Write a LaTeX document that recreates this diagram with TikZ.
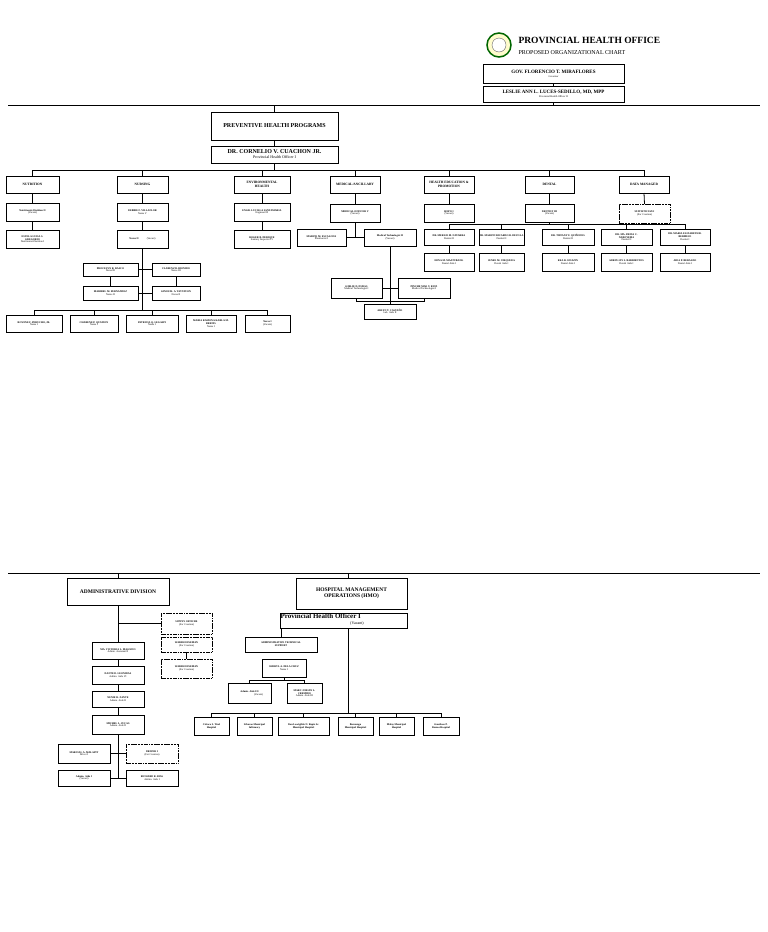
\documentclass[tikz,border=0pt]{standalone}
\usepackage{fontspec}
\setmainfont{Liberation Serif}
\tikzset{
 box/.style={draw,line width=0.8pt,inner sep=0.5pt,outer sep=0pt,align=center,font=\fontsize{2.6}{3}\selectfont},
 dsh/.style={dash pattern=on 1.5pt off 0.7pt on 0.4pt off 0.7pt},
 ln/.style={line width=0.8pt},
 hd/.style={font=\bfseries\fontsize{3.4}{4}\selectfont},
 bb/.style={font=\bfseries\fontsize{2.6}{3}\selectfont},
 bigb/.style={font=\bfseries\fontsize{5.5}{6.5}\selectfont}
}
\newcommand\bx[7][]{\pgfmathsetmacro\cx{(#3+#5)/2}\pgfmathsetmacro\cy{(#4+#6)/2}\pgfmathsetmacro\ww{#5-#3}\pgfmathsetmacro\hh{#6-#4}\node[box,minimum width=\ww pt,minimum height=\hh pt,#1] (#2) at (\cx,\cy) {#7};}
\newcommand\nm[2]{\bfseries #1\\[-0.3pt]\mdseries #2}
\begin{document}
\begin{tikzpicture}[x=1pt,y=-1pt]
\useasboundingbox[fill=white] (0,0) rectangle (768,932);
% header
\node[circle,draw=green!40!black,line width=1.5pt,fill=yellow!20,minimum size=24pt] (logo) at (499,45) {};
\node[circle,draw=black!60,line width=0.4pt,minimum size=14pt,fill=white] (logoin) at (499,45) {};
\node[anchor=west,font=\bfseries\fontsize{9.5}{10}\selectfont] (title) at (515,40) {PROVINCIAL HEALTH OFFICE};
\node[anchor=west,font=\fontsize{6}{7}\selectfont] (sub) at (515,53) {PROPOSED ORGANIZATIONAL CHART};
\bx{gov}{483}{64}{624}{83}{\bfseries\fontsize{5}{6}\selectfont GOV. FLORENCIO T. MIRAFLORES\\[1pt]Governor}
\bx{les}{483}{86}{624}{102}{\bfseries\fontsize{5}{6}\selectfont LESLIE ANN L. LUCES-SEDILLO, MD, MPP\\[0.5pt]Provincial Health Officer II}
\draw[ln] (gov.south)--(les.north);
\coordinate (tl) at (8,105); \coordinate (tr) at (760,105);
\draw[line width=1pt] (tl)--(tr);
\draw[ln] (les.south)--(les.south|-tl);
% preventive
\bx{php}{211}{112}{338}{140}{\bfseries\fontsize{6}{7}\selectfont PREVENTIVE HEALTH PROGRAMS}
\bx{cua}{211}{146}{338}{163}{\bfseries\fontsize{6}{7}\selectfont DR. CORNELIO V. CUACHON JR.\\[2pt]\fontsize{4}{5}\selectfont Provincial Health Officer I}
\draw[ln] (php.north|-tl)--(php.north) (php.south)--(cua.north);
\bx[hd]{nut}{6}{176}{59}{193}{NUTRITION}
\bx[hd]{nur}{117}{176}{168}{193}{NURSING}
\bx[hd]{env}{234}{176}{290}{193}{ENVIRONMENTAL\\HEALTH}
\bx[hd]{med}{330}{176}{380}{193}{MEDICAL/ANCILLARY}
\bx[hd]{hep}{424}{176}{474}{193}{HEALTH EDUCATION \&\\PROMOTION}
\bx[hd]{den}{525}{176}{574}{193}{DENTAL}
\bx[hd]{dat}{619}{176}{669}{193}{DATA MANAGER}
\coordinate (b1) at (0,170);
\draw[ln] (cua.south)--(cua.south|-b1) (nut.north)--(nut.north|-b1)--(dat.north|-b1)--(dat.north);
\foreach \n in {nur,env,med,hep,den} \draw[ln] (\n.north)--(\n.north|-b1);
% row 2
\bx{nd2}{6}{203}{59}{221}{\nm{Nutritionist-Dietitian II}{(Vacant)}}
\bx{deb}{117}{203}{168}{221}{\nm{DEBBIE F. VILLAFLOR}{Nurse V}}
\bx{eng}{234}{203}{290}{221}{\nm{ENGR. LUCILLA SANTAMARIA}{Engineer III}}
\bx{mo5}{330}{204}{380}{222}{\nm{MEDICAL OFFICER V}{(Vacant)}}
\bx{hep1}{424}{204}{474}{222}{\nm{HEPO I}{(Vacant)}}
\bx{d3}{525}{204}{574}{222}{\nm{DENTIST III}{(Vacant)}}
\bx[dsh]{stat}{619}{204}{670}{223}{\nm{STATISTICIAN I}{(For Creation)}}
\foreach \a/\b in {nut/nd2,nur/deb,env/eng,med/mo5,hep/hep1,den/d3,dat/stat} \draw[ln] (\a.south)--(\b.north);
% row 3
\bx{est}{6}{230}{59}{248}{\bfseries ESTELA LUISA S.\\\bfseries GREGORIO\\[-0.3pt]Nutritionist-Dietitian I}
\bx{n2v}{117}{230}{168}{248}{\textbf{Nurse II}\hspace{8pt}(Vacant)}
\bx{rog}{234}{230}{290}{248}{\nm{ROGER B. DERIQUE}{Sanitary Inspector IV}}
\bx{mar}{297}{229}{346}{246}{\nm{MARVIE M. ESCALONA}{Pharmacist I}}
\bx{mt2}{364}{229}{416}{246}{\nm{Medical Technologist II}{(Vacant)}}
\foreach \a/\b in {nd2/est,deb/n2v,eng/rog} \draw[ln] (\a.south)--(\b.north);
\coordinate (m1) at (0,237.5);
\draw[ln] (mo5.south)--(mo5.south|-m1) (mar.east)--(mt2.west);
% dental
\bx{dr1}{424}{229}{474}{245}{\nm{DR. MERLIE M. NAYARRA}{Dentist II}}
\bx{dr2}{479}{229}{524}{245}{\nm{DR. MARVIN RICARDO B. DEVOLA}{Dentist II}}
\bx{dr3}{542}{229}{594}{245}{\nm{DR. TIFFANY F. QUI\~NONES}{Dentist II}}
\bx{dr4}{601}{229}{652}{245}{\bfseries DR. MA. FRIDA C.\\\bfseries NABOYEMA\\[-0.3pt]Dentist II}
\bx{dr5}{660}{229}{710}{245}{\bfseries DR. MARIA ELIZABETH B.\\\bfseries BERMEJO\\[-0.3pt]Dentist I}
\coordinate (b2) at (0,224);
\draw[ln] (d3.south)--(d3.south|-b2) (dr1.north)--(dr1.north|-b2)--(dr5.north|-b2)--(dr5.north);
\foreach \n in {dr2,dr3,dr4} \draw[ln] (\n.north)--(\n.north|-b2);
\bx{da1}{424}{253}{474}{271}{\nm{EDNA M. MAATUBANG}{Dental Aide I}}
\bx{da2}{479}{253}{524}{271}{\nm{JENEE M. CIRQUEDA}{Dental Aide I}}
\bx{da3}{542}{253}{594}{271}{\nm{REA R. SINAZIN}{Dental Aide I}}
\bx{da4}{601}{253}{652}{271}{\nm{ADRIN JAY S. BARRIENTOS}{Dental Aide I}}
\bx{da5}{660}{253}{710}{271}{\nm{AIDA P. BERALDO}{Dental Aide I}}
\foreach \i in {1,...,5} \draw[ln] (dr\i.south)--(da\i.north);
% medtech
\bx{gir}{331}{278}{382}{298}{\nm{GIRLIE D. DUBAS}{Medical Technologist I}}
\bx{pin}{398}{278}{450}{298}{\nm{PINCHE MAE V. RUIZ}{Medical Technologist I}}
\bx{arl}{364}{304}{416}{319}{\nm{ARLYN T. CASTA\~NO}{Lab. Aide II}}
\coordinate (m2) at (0,301);
\draw[ln] (mt2.south)--(arl.north) (gir.east)--(pin.west)
 (gir.south)--(gir.south|-m2)--(pin.south|-m2)--(pin.south);
% nursing
\bx{ras}{83}{263}{138}{276}{\nm{PROCELYN R. RASCO}{Nurse III}}
\bx{bio}{152}{263}{200}{276}{\nm{CLARENZ B. BIONIDO}{Nurse III}}
\bx{fer}{83}{286}{138}{300}{\nm{MARIBEL M. FERNANDEZ}{Nurse II}}
\bx{tay}{152}{286}{200}{300}{\nm{GINOVAL A. TAYTAYON}{Nurse II}}
\draw[ln] (ras.east)--(bio.west) (fer.east)--(tay.west) (ras.south)--(fer.north) (bio.south)--(tay.north);
\bx{rov}{6}{315}{62}{332}{\nm{ROVENE F. PERUCHO, JR.}{Nurse I}}
\bx{cha}{70}{315}{118}{332}{\nm{CHARENE P. QUATION}{Nurse I}}
\bx{pat}{126}{315}{178}{332}{\nm{PATRICIA Q. LEGASPI}{Nurse I}}
\bx{mrk}{186}{315}{236}{332}{\bfseries MARIA RAMONA KARLA M.\\\bfseries BRENIS\\[-0.3pt]Nurse I}
\bx{n1v}{245}{315}{290}{332}{\nm{Nurse I}{(Vacant)}}
\coordinate (b3) at (0,310);
\draw[ln] (n2v.south)--(n2v.south|-b3) (rov.north)--(rov.north|-b3)--(n1v.north|-b3)--(n1v.north);
\foreach \n in {cha,pat,mrk} \draw[ln] (\n.north)--(\n.north|-b3);
% ===== bottom =====
\coordinate (bl) at (8,573); \coordinate (br) at (760,573);
\draw[line width=1pt] (bl)--(br);
\bx[bigb]{adm}{67}{578}{169}{605}{ADMINISTRATIVE DIVISION}
\bx[bigb]{hmo}{296}{578}{407}{609}{HOSPITAL MANAGEMENT\\OPERATIONS (HMO)}
\coordinate (hmt) at (348,573);
\draw[ln] (adm.north)--(adm.north|-bl) (hmo.north-|hmt)--(hmt);
\bx{pho}{280}{613}{407}{628}{}
\node[anchor=north west,font=\bfseries\fontsize{7}{8}\selectfont,inner sep=0.5pt] (phot) at (pho.north west) {Provincial Health Officer I};
\node[font=\fontsize{4}{5}\selectfont,inner sep=0.5pt] (phov) at (357,624) {(Vacant)};
% admin
\bx[dsh]{sup}{161}{613}{212}{634}{\nm{SUPPLY OFFICER}{(For Creation)}}
\bx[dsh]{wh1}{161}{637}{212}{652}{\nm{WAREHOUSEMAN}{(For Creation)}}
\bx[dsh]{wh2}{161}{659}{212}{678}{\nm{WAREHOUSEMAN}{(For Creation)}}
\draw[ln] (wh1.south)--(wh2.north);
\bx{mag}{92}{642}{144}{659}{\nm{MA. VICTORIA L. MAGSINO}{Admin. Assistant II}}
\bx{dan}{92}{666}{144}{684}{\nm{DANTE D. LEONIDAS}{Admin. Aide VI}}
\bx{nen}{92}{691}{144}{707}{\nm{NENIE R. ZANTE}{Admin. Aide II}}
\bx{mic}{92}{715}{144}{734}{\nm{MICHEL L. JUCAS}{Admin. Aide II}}
\bx{mal}{58}{744}{110}{763}{\nm{MARCIAL A. MALAPIT}{Driver I}}
\bx[dsh]{drv}{126}{744}{178}{763}{\nm{DRIVER I}{(For Creation)}}
\bx{aa1}{58}{770}{110}{786}{\nm{Admin. Aide I}{(Vacant)}}
\bx{ric}{126}{770}{178}{786}{\nm{RICHARD R. BIAS}{Admin. Aide I}}
\draw[ln] (adm.south)--(mag.north) (mag.south)--(dan.north) (dan.south)--(nen.north) (nen.south)--(mic.north)
 (mic.south)--(mic.south|-aa1.east) (mal.east)--(drv.west) (aa1.east)--(ric.west)
 (adm.south|-sup.west)--(sup.west);
% hmo
\bx[bb]{ats}{245}{637}{317}{652}{ADMINISTRATIVE TECHNICAL\\SUPPORT}
\bx{she}{262}{659}{306}{677}{\nm{SHERYL A. DELA CRUZ}{Nurse I}}
\bx{aa3}{228}{683}{271}{703}{\bfseries Admin. Aide III\\\hspace*{18pt}(Vacant)}
\bx{mjc}{287}{683}{322}{703}{\bfseries MARC JORIAN L.\\\bfseries CREMIDO\\[-0.3pt]Admin. Aide III}
\coordinate (h1) at (0,680);
\draw[ln] (ats.north|-pho.south)--(ats.north) (ats.south|-she.north)--(she.north)
 (she.south)--(she.south|-h1) (aa3.north)--(aa3.north|-h1)--(mjc.north|-h1)--(mjc.north);
\bx[bb]{hs1}{194}{717}{229}{735}{Ciriaco S. Tirol\\Hospital}
\bx[bb]{hs2}{237}{717}{272}{735}{Libacao Municipal\\Infirmary}
\bx[bb]{hs3}{278}{717}{329}{735}{Don Leocigildo N. Rapiz Sr.\\Municipal Hospital}
\bx[bb]{hs4}{338}{717}{373}{735}{Buruanga\\Municipal Hospital}
\bx[bb]{hs5}{379}{717}{414}{735}{Malay Municipal\\Hospital}
\bx[bb]{hs6}{423}{717}{459}{735}{Gaudioso P.\\Ramos Hospital}
\coordinate (h2) at (0,713);
\draw[ln] (pho.south-|hmt)--(hmt|-h2) (hs1.north)--(hs1.north|-h2)--(hs6.north|-h2)--(hs6.north);
\foreach \n in {hs2,hs3,hs4,hs5} \draw[ln] (\n.north)--(\n.north|-h2);
\end{tikzpicture}
\end{document}
